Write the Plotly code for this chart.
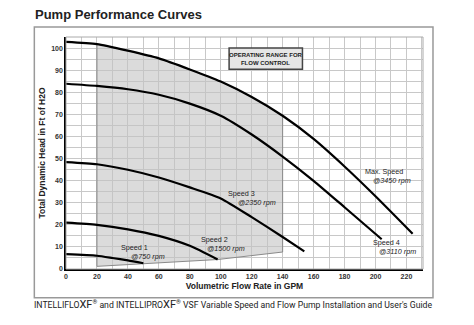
import plotly.graph_objects as go

# ---------------- data ----------------
max_x = [0, 20, 40, 60, 80, 100, 120, 140, 160, 180, 200, 224]
max_y = [103, 102, 99, 95.5, 90.5, 85, 78, 69.5, 59, 46.5, 33, 16]

s4_x = [0, 20, 40, 60, 80, 100, 120, 140, 160, 180, 204]
s4_y = [84, 83, 81.5, 79, 75, 69.5, 61, 51, 40, 28, 13.5]

s3_x = [0, 20, 40, 60, 80, 100, 120, 140, 154]
s3_y = [48.5, 47.5, 45, 41.5, 37, 32, 23.5, 14.5, 8]

s2_x = [0, 20, 40, 60, 80, 98]
s2_y = [21, 20, 18, 15, 10.5, 4.3]

s1_x = [0, 20, 30, 40, 50]
s1_y = [6.7, 6, 5, 3.9, 2.6]

sys_x = [20, 50, 98, 140]
sys_y = [1.2, 2.6, 4.3, 7.7]

range_x = [20, 140]

x_ticks = list(range(0, 221, 20))
y_ticks = list(range(0, 101, 10))

speed_names = ["Max. Speed", "Speed 4", "Speed 3", "Speed 2", "Speed 1"]
speed_rpm = ["@3450 rpm", "@3110 rpm", "@2350 rpm", "@1500 rpm", "@750 rpm"]

# ---------------- figure ----------------
FONT = "Liberation Sans, Arial, sans-serif"
fig = go.Figure()

# operating range polygon (from max curve and system curve)
top_pts = [(x, y) for x, y in zip(max_x, max_y) if range_x[0] <= x <= range_x[1]]
poly_x = [p[0] for p in top_pts] + list(reversed(sys_x)) + [top_pts[0][0]]
poly_y = [p[1] for p in top_pts] + list(reversed(sys_y)) + [top_pts[0][1]]
fig.add_trace(go.Scatter(x=poly_x, y=poly_y, mode="lines", fill="toself",
                         fillcolor="rgba(195,195,195,0.6)",
                         line=dict(color="#8a8a8a", width=1),
                         hoverinfo="skip", showlegend=False))

for xs, ys in [(max_x, max_y), (s4_x, s4_y), (s3_x, s3_y), (s2_x, s2_y), (s1_x, s1_y)]:
    fig.add_trace(go.Scatter(x=xs, y=ys, mode="lines",
                             line=dict(color="black", width=2.2, shape="spline", smoothing=0.6),
                             hoverinfo="skip", showlegend=False))

# label positions: (x of left edge, y of block centre, indent of rpm line in spaces)
label_pos = [
    (191.7, 42.0, 4),
    (197.4, 10.0, 3),
    (103.7, 32.2, 5),
    (86.0, 11.3, 3),
    (34.4, 7.7, 5),
]
for name, rpm, (nx, ny, ind) in zip(speed_names, speed_rpm, label_pos):
    fig.add_annotation(x=nx, y=ny, text=name + "<br>" + "&nbsp;" * ind + "<i>" + rpm + "</i>",
                       showarrow=False, xanchor="left", yanchor="middle", align="left",
                       font=dict(family=FONT, size=7.2, color="#222"))

# operating range box
fig.add_shape(type="rect", x0=105.4, x1=152.8, y0=90.6, y1=100.2, xref="x", yref="y",
              line=dict(color="#444", width=1.5), fillcolor="#e6e6e6", layer="above")
fig.add_annotation(x=129.1, y=95.4, text="OPERATING RANGE FOR<br>FLOW CONTROL", showarrow=False,
                   font=dict(family=FONT, size=6, color="#222", weight="bold"))

# plot border (gray) and outer frame
fig.add_shape(type="rect", xref="paper", yref="paper", x0=0, x1=1, y0=0, y1=1,
              line=dict(color="#aaaaaa", width=1), layer="above")
fig.add_shape(type="rect", xref="paper", yref="paper", x0=-0.0887, x1=1.028, y0=-0.1236, y1=1.043,
              line=dict(color="#999999", width=1.5))

# footer
fig.add_annotation(xref="paper", yref="paper", x=0.469, y=-0.191, showarrow=False,
                   text="INTELLIFLO<span style='font-size:11px'>XF</span><sup>®</sup> and INTELLIPRO"
                        "<span style='font-size:11px'>XF</span><sup>®</sup> VSF Variable Speed and Flow "
                        "Pump Installation and User's Guide",
                   font=dict(family="Liberation Sans Narrow, Roboto, sans-serif", size=8.7, color="#222"))

fig.update_layout(
    width=474, height=325,
    margin=dict(l=66, r=50.7, t=37.3, b=56.3),
    paper_bgcolor="white", plot_bgcolor="white",
    title=dict(text="<b>Pump Performance Curves</b>", x=35 / 474, xanchor="left",
               y=1 - 14 / 325, yanchor="middle", xref="container", yref="container",
               font=dict(family=FONT, size=13, color="#222")),
    xaxis=dict(range=[0, 230.7], tickvals=x_ticks, showgrid=True, gridcolor="#c8c8c8", gridwidth=1,
               minor=dict(dtick=10, tick0=0, showgrid=True, gridcolor="#c8c8c8", gridwidth=1),
               showline=True, linecolor="black", linewidth=1.5, zeroline=False, ticks="",
               tickfont=dict(family=FONT, size=7, color="#333", weight="bold"),
               title=dict(text="Volumetric Flow Rate in GPM", standoff=4,
                          font=dict(family=FONT, size=8.5, color="#222", weight="bold"))),
    yaxis=dict(range=[0, 105.2], tickvals=y_ticks, showgrid=True, gridcolor="#c8c8c8", gridwidth=1,
               minor=dict(dtick=5, tick0=0, showgrid=True, gridcolor="#c8c8c8", gridwidth=1),
               showline=True, linecolor="black", linewidth=1.5, zeroline=False, ticks="",
               tickfont=dict(family=FONT, size=7, color="#333", weight="bold"),
               title=dict(text="Total Dynamic Head in Ft of H2O", standoff=4,
                          font=dict(family=FONT, size=8.5, color="#222", weight="bold"))),
)

fig.write_html("out.html")
